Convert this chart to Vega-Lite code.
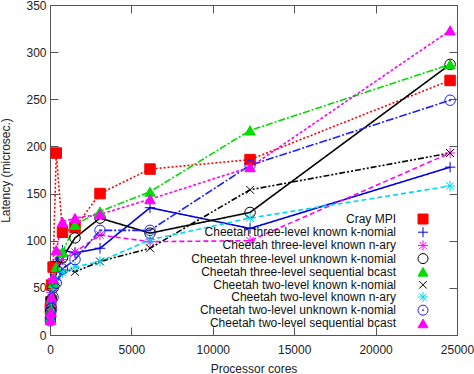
{
  "$schema": "https://vega.github.io/schema/vega-lite/v6.json",
  "width": 407,
  "height": 330,
  "autosize": {"type": "none"},
  "padding": {"left": 50, "top": 5, "right": 17, "bottom": 39},
  "background": "white",
  "config": {
    "font": "Liberation Sans",
    "view": {"stroke": "#555555", "strokeWidth": 1},
    "axis": {"grid": false, "domain": false, "tickSize": -8, "tickColor": "#555555", "tickWidth": 1, "labelFontSize": 12, "labelColor": "#222222", "titleFontSize": 12, "titleFontWeight": "normal", "titleColor": "#222222", "labelFont": "Liberation Sans", "titleFont": "Liberation Sans"},
    "legend": {"orient": "none", "legendX": 367, "legendY": 208, "padding": 0, "labelAlign": "right", "labelOffset": -33, "labelFontSize": 12, "labelColor": "#111111", "labelLimit": 400, "rowPadding": -0.8, "symbolSize": 100, "symbolStrokeWidth": 1, "symbolType": "circle"}
  },
  "resolve": {"axis": {"x": "independent", "y": "independent"}},
  "data": {"values": [
    {"series": "Cray MPI", "cores": 24, "latency": 28},
    {"series": "Cray MPI", "cores": 48, "latency": 35},
    {"series": "Cray MPI", "cores": 96, "latency": 53},
    {"series": "Cray MPI", "cores": 192, "latency": 72},
    {"series": "Cray MPI", "cores": 384, "latency": 193},
    {"series": "Cray MPI", "cores": 768, "latency": 109},
    {"series": "Cray MPI", "cores": 1536, "latency": 114},
    {"series": "Cray MPI", "cores": 3072, "latency": 150},
    {"series": "Cray MPI", "cores": 6144, "latency": 176},
    {"series": "Cray MPI", "cores": 12288, "latency": 186},
    {"series": "Cray MPI", "cores": 24576, "latency": 270},
    {"series": "Cheetah three-level known k-nomial", "cores": 24, "latency": 18},
    {"series": "Cheetah three-level known k-nomial", "cores": 48, "latency": 25},
    {"series": "Cheetah three-level known k-nomial", "cores": 96, "latency": 40},
    {"series": "Cheetah three-level known k-nomial", "cores": 192, "latency": 55},
    {"series": "Cheetah three-level known k-nomial", "cores": 384, "latency": 78},
    {"series": "Cheetah three-level known k-nomial", "cores": 768, "latency": 90},
    {"series": "Cheetah three-level known k-nomial", "cores": 1536, "latency": 87},
    {"series": "Cheetah three-level known k-nomial", "cores": 3072, "latency": 92},
    {"series": "Cheetah three-level known k-nomial", "cores": 6144, "latency": 135},
    {"series": "Cheetah three-level known k-nomial", "cores": 12288, "latency": 113},
    {"series": "Cheetah three-level known k-nomial", "cores": 24576, "latency": 178},
    {"series": "Cheetah three-level known n-ary", "cores": 24, "latency": 20},
    {"series": "Cheetah three-level known n-ary", "cores": 48, "latency": 30},
    {"series": "Cheetah three-level known n-ary", "cores": 96, "latency": 45},
    {"series": "Cheetah three-level known n-ary", "cores": 192, "latency": 60},
    {"series": "Cheetah three-level known n-ary", "cores": 384, "latency": 72},
    {"series": "Cheetah three-level known n-ary", "cores": 768, "latency": 80},
    {"series": "Cheetah three-level known n-ary", "cores": 1536, "latency": 88},
    {"series": "Cheetah three-level known n-ary", "cores": 3072, "latency": 106},
    {"series": "Cheetah three-level known n-ary", "cores": 6144, "latency": 99},
    {"series": "Cheetah three-level known n-ary", "cores": 12288, "latency": 100},
    {"series": "Cheetah three-level known n-ary", "cores": 24576, "latency": 193},
    {"series": "Cheetah three-level unknown k-nomial", "cores": 24, "latency": 18},
    {"series": "Cheetah three-level unknown k-nomial", "cores": 48, "latency": 25},
    {"series": "Cheetah three-level unknown k-nomial", "cores": 96, "latency": 38},
    {"series": "Cheetah three-level unknown k-nomial", "cores": 192, "latency": 50},
    {"series": "Cheetah three-level unknown k-nomial", "cores": 384, "latency": 65},
    {"series": "Cheetah three-level unknown k-nomial", "cores": 768, "latency": 82},
    {"series": "Cheetah three-level unknown k-nomial", "cores": 1536, "latency": 103},
    {"series": "Cheetah three-level unknown k-nomial", "cores": 3072, "latency": 124},
    {"series": "Cheetah three-level unknown k-nomial", "cores": 6144, "latency": 108},
    {"series": "Cheetah three-level unknown k-nomial", "cores": 12288, "latency": 130},
    {"series": "Cheetah three-level unknown k-nomial", "cores": 24576, "latency": 287},
    {"series": "Cheetah three-level sequential bcast", "cores": 24, "latency": 20},
    {"series": "Cheetah three-level sequential bcast", "cores": 48, "latency": 28},
    {"series": "Cheetah three-level sequential bcast", "cores": 96, "latency": 40},
    {"series": "Cheetah three-level sequential bcast", "cores": 192, "latency": 55},
    {"series": "Cheetah three-level sequential bcast", "cores": 384, "latency": 72},
    {"series": "Cheetah three-level sequential bcast", "cores": 768, "latency": 88},
    {"series": "Cheetah three-level sequential bcast", "cores": 1536, "latency": 117},
    {"series": "Cheetah three-level sequential bcast", "cores": 3072, "latency": 131},
    {"series": "Cheetah three-level sequential bcast", "cores": 6144, "latency": 152},
    {"series": "Cheetah three-level sequential bcast", "cores": 12288, "latency": 217},
    {"series": "Cheetah three-level sequential bcast", "cores": 24576, "latency": 287},
    {"series": "Cheetah two-level known k-nomial", "cores": 24, "latency": 15},
    {"series": "Cheetah two-level known k-nomial", "cores": 48, "latency": 22},
    {"series": "Cheetah two-level known k-nomial", "cores": 96, "latency": 32},
    {"series": "Cheetah two-level known k-nomial", "cores": 192, "latency": 45},
    {"series": "Cheetah two-level known k-nomial", "cores": 384, "latency": 56},
    {"series": "Cheetah two-level known k-nomial", "cores": 768, "latency": 70},
    {"series": "Cheetah two-level known k-nomial", "cores": 1536, "latency": 67},
    {"series": "Cheetah two-level known k-nomial", "cores": 3072, "latency": 78},
    {"series": "Cheetah two-level known k-nomial", "cores": 6144, "latency": 92},
    {"series": "Cheetah two-level known k-nomial", "cores": 12288, "latency": 154},
    {"series": "Cheetah two-level known k-nomial", "cores": 24576, "latency": 193},
    {"series": "Cheetah two-level known n-ary", "cores": 24, "latency": 15},
    {"series": "Cheetah two-level known n-ary", "cores": 48, "latency": 22},
    {"series": "Cheetah two-level known n-ary", "cores": 96, "latency": 34},
    {"series": "Cheetah two-level known n-ary", "cores": 192, "latency": 48},
    {"series": "Cheetah two-level known n-ary", "cores": 384, "latency": 58},
    {"series": "Cheetah two-level known n-ary", "cores": 768, "latency": 66},
    {"series": "Cheetah two-level known n-ary", "cores": 1536, "latency": 72},
    {"series": "Cheetah two-level known n-ary", "cores": 3072, "latency": 78},
    {"series": "Cheetah two-level known n-ary", "cores": 6144, "latency": 101},
    {"series": "Cheetah two-level known n-ary", "cores": 12288, "latency": 124},
    {"series": "Cheetah two-level known n-ary", "cores": 24576, "latency": 158},
    {"series": "Cheetah two-level unknown k-nomial", "cores": 24, "latency": 15},
    {"series": "Cheetah two-level unknown k-nomial", "cores": 48, "latency": 20},
    {"series": "Cheetah two-level unknown k-nomial", "cores": 96, "latency": 28},
    {"series": "Cheetah two-level unknown k-nomial", "cores": 192, "latency": 40},
    {"series": "Cheetah two-level unknown k-nomial", "cores": 384, "latency": 55},
    {"series": "Cheetah two-level unknown k-nomial", "cores": 768, "latency": 70},
    {"series": "Cheetah two-level unknown k-nomial", "cores": 1536, "latency": 80},
    {"series": "Cheetah two-level unknown k-nomial", "cores": 3072, "latency": 111},
    {"series": "Cheetah two-level unknown k-nomial", "cores": 6144, "latency": 111},
    {"series": "Cheetah two-level unknown k-nomial", "cores": 12288, "latency": 180},
    {"series": "Cheetah two-level unknown k-nomial", "cores": 24576, "latency": 249},
    {"series": "Cheetah two-level sequential bcast", "cores": 24, "latency": 16},
    {"series": "Cheetah two-level sequential bcast", "cores": 48, "latency": 24},
    {"series": "Cheetah two-level sequential bcast", "cores": 96, "latency": 40},
    {"series": "Cheetah two-level sequential bcast", "cores": 192, "latency": 60},
    {"series": "Cheetah two-level sequential bcast", "cores": 384, "latency": 90},
    {"series": "Cheetah two-level sequential bcast", "cores": 768, "latency": 120},
    {"series": "Cheetah two-level sequential bcast", "cores": 1536, "latency": 124},
    {"series": "Cheetah two-level sequential bcast", "cores": 3072, "latency": 128},
    {"series": "Cheetah two-level sequential bcast", "cores": 6144, "latency": 144},
    {"series": "Cheetah two-level sequential bcast", "cores": 12288, "latency": 178},
    {"series": "Cheetah two-level sequential bcast", "cores": 24576, "latency": 323}
  ]},
  "layer": [
    {
      "mark": {"type": "line", "strokeWidth": 1.6, "clip": true},
      "encoding": {
        "x": {"field": "cores", "type": "quantitative", "title": "Processor cores",
              "scale": {"domain": [0, 25000], "nice": false},
              "axis": {"orient": "bottom", "values": [0, 5000, 10000, 15000, 20000, 25000], "format": "d", "labelPadding": 17, "titlePadding": 8, "labelFlush": false}},
        "y": {"field": "latency", "type": "quantitative", "title": "Latency (microsec.)",
              "scale": {"domain": [0, 350], "nice": false},
              "axis": {"orient": "left", "values": [0, 50, 100, 150, 200, 250, 300, 350], "labelPadding": 12, "titlePadding": 13, "labelFlush": false}},
        "detail": {"field": "series"},
        "stroke": {"field": "series", "type": "nominal", "title": null,
          "scale": {"domain": ["Cray MPI", "Cheetah three-level known k-nomial", "Cheetah three-level known n-ary", "Cheetah three-level unknown k-nomial", "Cheetah three-level sequential bcast", "Cheetah two-level known k-nomial", "Cheetah two-level known n-ary", "Cheetah two-level unknown k-nomial", "Cheetah two-level sequential bcast"],
                    "range": ["#ff0000", "#0000e0", "#ff00ff", "#000000", "#00dd00", "#000000", "#00d8f0", "#2020ff", "#ff00ff"]}},
        "strokeDash": {"field": "series", "type": "nominal", "legend": null,
          "scale": {"domain": ["Cheetah two-level sequential bcast", "Cheetah two-level unknown k-nomial", "Cheetah two-level known n-ary", "Cheetah two-level known k-nomial", "Cheetah three-level sequential bcast", "Cheetah three-level unknown k-nomial", "Cheetah three-level known n-ary", "Cheetah three-level known k-nomial", "Cray MPI"],
                    "range": [[3, 2], [8, 2, 2, 2], [5, 3], [6, 2, 2, 2, 2, 2], [7, 2, 2, 2], [1, 0], [5, 3], [1, 0], [2, 2]]}}
      }
    },
    {
      "mark": {"type": "point", "strokeWidth": 1, "opacity": 1, "size": 110},
      "encoding": {
        "x": {"field": "cores", "type": "quantitative",
              "axis": {"orient": "top", "values": [0, 5000, 10000, 15000, 20000, 25000], "labels": false, "title": null}},
        "y": {"field": "latency", "type": "quantitative",
              "axis": {"orient": "right", "values": [0, 50, 100, 150, 200, 250, 300, 350], "labels": false, "title": null}},
        "shape": {"field": "series", "type": "nominal", "title": null,
          "scale": {"domain": ["Cray MPI", "Cheetah three-level known k-nomial", "Cheetah three-level known n-ary", "Cheetah three-level unknown k-nomial", "Cheetah three-level sequential bcast", "Cheetah two-level known k-nomial", "Cheetah two-level known n-ary", "Cheetah two-level unknown k-nomial", "Cheetah two-level sequential bcast"],
                    "range": ["square", "M-1,0H1M0,-1V1", "M-1,0H1M0,-1V1M-0.7,-0.7L0.7,0.7M-0.7,0.7L0.7,-0.7", "circle", "triangle-up", "M-0.75,-0.75L0.75,0.75M-0.75,0.75L0.75,-0.75", "M-1,0H1M0,-1V1M-0.7,-0.7L0.7,0.7M-0.7,0.7L0.7,-0.7", "M1,0A1,1 0 1,1 -1,0A1,1 0 1,1 1,0ZM0.12,0A0.12,0.12 0 1,1 -0.12,0A0.12,0.12 0 1,1 0.12,0Z", "triangle-up"]}},
        "stroke": {"field": "series", "type": "nominal", "title": null},
        "fill": {"field": "series", "type": "nominal", "title": null,
          "scale": {"domain": ["Cray MPI", "Cheetah three-level known k-nomial", "Cheetah three-level known n-ary", "Cheetah three-level unknown k-nomial", "Cheetah three-level sequential bcast", "Cheetah two-level known k-nomial", "Cheetah two-level known n-ary", "Cheetah two-level unknown k-nomial", "Cheetah two-level sequential bcast"],
                    "range": ["#ff0000", "transparent", "transparent", "transparent", "#00dd00", "transparent", "transparent", "transparent", "#ff00ff"]}}
      }
    }
  ]
}
